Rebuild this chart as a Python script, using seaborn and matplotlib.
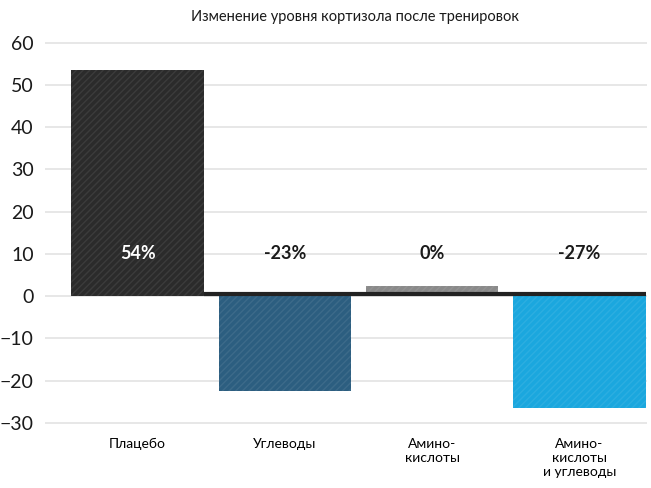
import matplotlib
matplotlib.use("Agg")
import matplotlib.pyplot as plt
import seaborn as sns
import pandas as pd

categories = ["Плацебо", "Углеводы", "Амино-\nкислоты", "Амино-\nкислоты\nи углеводы"]
values = [53.5, -22.5, 2.5, -26.5]
labels = ["54%", "-23%", "0%", "-27%"]
colors = ["#2b2b2b", "#2c5e80", "#8a8a8a", "#1ba7de"]
label_colors = ["white", "#1a1a1a", "#1a1a1a", "#1a1a1a"]

plt.rcParams["font.family"] = "Lato"
df = pd.DataFrame({"cat": categories, "val": values})

fig = plt.figure(figsize=(6.51, 4.88), dpi=100)
ax = fig.add_axes([45 / 651, 61 / 488, 602 / 651, 397 / 488])
sns.barplot(data=df, x="cat", y="val", hue="cat", palette=colors,
            width=0.9, legend=False, ax=ax, saturation=1, zorder=2)
for bar in ax.patches:
    bar.set_hatch("/////")
    bar.set_edgecolor((1, 1, 1, 0.08))
    bar.set_linewidth(0)

ax.plot([0.45, 3.45], [0.5, 0.5], color="#222222", lw=3, zorder=3,
        solid_capstyle="butt")
for i, t in enumerate(labels):
    ax.text(i, 10, t, ha="center", va="center", fontsize=13,
            fontweight="bold", color=label_colors[i], zorder=4)

ax.set_xlim(-0.63, 3.46)
ax.set_ylim(-31, 63)
ax.set_yticks(range(-30, 61, 10))
ax.yaxis.grid(True, color="#e3e3e3", lw=1.2, zorder=0)
ax.set_axisbelow(True)
ax.tick_params(axis="y", length=0, labelsize=14, pad=8, labelcolor="#1a1a1a")
ax.tick_params(axis="x", length=0, labelsize=10, pad=8)
for lbl in ax.get_xticklabels():
    lbl.set_va("top")
ax.set_xlabel("")
ax.set_ylabel("")
for s in ax.spines.values():
    s.set_visible(False)
fig.text(0.545, 0.965, "Изменение уровня кортизола после тренировок",
         ha="center", va="center", fontsize=10.5, color="#1a1a1a")
fig.savefig("out.png", dpi=100)
